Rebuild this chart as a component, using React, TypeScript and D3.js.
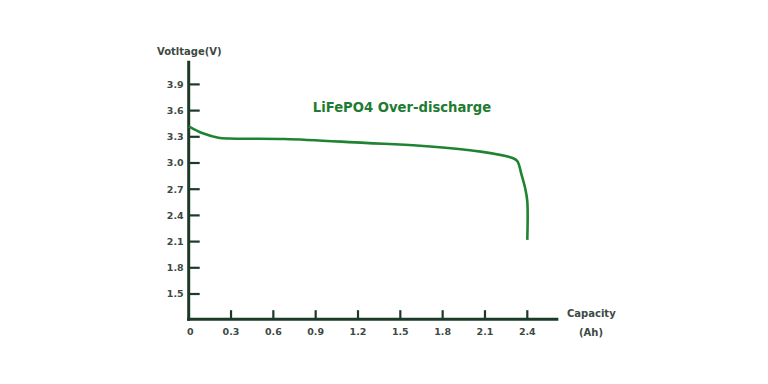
import * as d3 from 'd3';

// capacity (Ah) vs voltage (V)
const capacity = [0, 0.1, 0.21, 0.29, 0.68, 1.25, 1.64, 2.07, 2.3, 2.33, 2.36, 2.385, 2.4, 2.4];
const voltage = [3.42, 3.34, 3.29, 3.28, 3.275, 3.23, 3.198, 3.13, 3.055, 3.02, 2.86, 2.71, 2.56, 2.12];

const xTicks = [0.3, 0.6, 0.9, 1.2, 1.5, 1.8, 2.1, 2.4];
const xLabels = ['0', '0.3', '0.6', '0.9', '1.2', '1.5', '1.8', '2.1', '2.4'];
const yTicks = [1.5, 1.8, 2.1, 2.4, 2.7, 3.0, 3.3, 3.6, 3.9];

const title = 'LiFePO4 Over-discharge';
const yTitle = 'Votltage(V)';

const W = 768;
const H = 384;
const AXIS = '#1b3a27';
const LABEL = '#3d4a43';
const GREEN = '#1f8431';
const FONT = '"DejaVu Sans", Verdana, sans-serif';

export default function App() {
  const x = d3.scaleLinear().domain([0, 2.4]).range([188.7, 527.3]);
  const y = d3.scaleLinear().domain([1.5, 3.9]).range([294, 84.4]);

  const x0 = x(0);
  const yBase = y(1.2) - 1;
  const yTop = y(4.17);
  const xEnd = x(2.62);

  const pts: [number, number][] = capacity.map((c, i) => [c, voltage[i]]);
  const line = d3
    .line<[number, number]>()
    .x(d => x(d[0]))
    .y(d => y(d[1]))
    .curve(d3.curveCatmullRom.alpha(0.5));

  return (
    <svg width={W} height={H} style={{ position: 'absolute', left: 0, top: 0 }}>
      <rect width={W} height={H} fill="#fff" />
      {/* axes */}
      <line x1={x0} x2={x0} y1={yTop} y2={yBase + 1.5} stroke={AXIS} strokeWidth={3} />
      <line x1={x0 - 1.5} x2={xEnd} y1={yBase} y2={yBase} stroke={AXIS} strokeWidth={3} />
      {yTicks.map(t => (
        <g key={`y${t}`}>
          <line x1={x0} x2={x0 + 11} y1={y(t)} y2={y(t)} stroke={AXIS} strokeWidth={2.2} />
          <text
            x={x0 - 5}
            y={y(t)}
            dy="0.36em"
            textAnchor="end"
            fontFamily={FONT}
            fontWeight="bold"
            fontSize={9.5}
            fill={LABEL}
          >
            {t.toFixed(1)}
          </text>
        </g>
      ))}
      {xTicks.map(t => (
        <line key={`x${t}`} x1={x(t)} x2={x(t)} y1={yBase} y2={yBase - 9} stroke={AXIS} strokeWidth={2.2} />
      ))}
      {xLabels.map((l, i) => (
        <text
          key={`xl${l}`}
          x={x(i * 0.3) + (i === 0 ? 1.5 : 0)}
          y={335}
          textAnchor="middle"
          fontFamily={FONT}
          fontWeight="bold"
          fontSize={9.5}
          fill={LABEL}
        >
          {l}
        </text>
      ))}
      <text x={157} y={55} fontFamily={FONT} fontWeight="bold" fontSize={10} fill={LABEL}>
        {yTitle}
      </text>
      <text x={567} y={317} fontFamily={FONT} fontWeight="bold" fontSize={10} fill={LABEL}>
        Capacity
      </text>
      <text x={591} y={336} textAnchor="middle" fontFamily={FONT} fontWeight="bold" fontSize={10} fill={LABEL}>
        (Ah)
      </text>
      <text x={402} y={112} textAnchor="middle" fontFamily={FONT} fontWeight="bold" fontSize={13.2} fill="#1e7b31">
        {title}
      </text>
      <path d={line(pts) ?? ''} fill="none" stroke={GREEN} strokeWidth={2.6} strokeLinejoin="round" />
    </svg>
  );
}
